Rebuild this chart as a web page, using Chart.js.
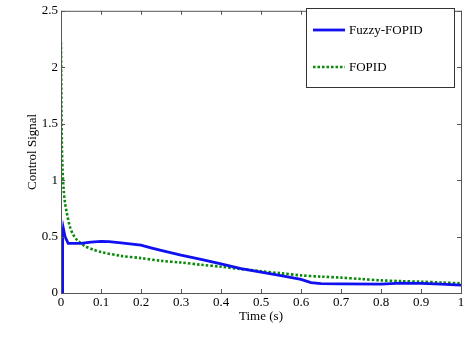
<!DOCTYPE html>
<html><head><meta charset="utf-8">
<script src="https://cdn.jsdelivr.net/npm/chart.js@4/dist/chart.umd.min.js"></script>
<style>html,body{margin:0;padding:0;background:#fff}#wrap{width:474px;height:338px}</style>
</head><body><div id="wrap"><canvas id="c" width="474" height="338"></canvas></div>
<script>
const seriesNames = ['Fuzzy-FOPID', 'FOPID'];
const xTitle = 'Time (s)';
const yTitle = 'Control Signal';
const tFuzzy = [0, 0.003, 0.004, 0.006, 0.01, 0.018, 0.03, 0.05, 0.075, 0.1, 0.12, 0.15, 0.2, 0.225, 0.25, 0.3, 0.35, 0.4, 0.45, 0.5, 0.55, 0.6, 0.625, 0.65, 0.7, 0.8, 0.85, 0.9, 0.95, 1.0];
const fuzzyFopid = [0, 0, 0.5, 0.57, 0.5, 0.44, 0.44, 0.44, 0.45, 0.458, 0.455, 0.444, 0.424, 0.4, 0.378, 0.335, 0.297, 0.257, 0.215, 0.184, 0.154, 0.121, 0.092, 0.083, 0.08, 0.078, 0.087, 0.085, 0.078, 0.069];
const tFopid = [0, 0.001, 0.002, 0.004, 0.007, 0.01, 0.014, 0.022, 0.03, 0.04, 0.06, 0.08, 0.1, 0.15, 0.2, 0.25, 0.3, 0.35, 0.4, 0.45, 0.5, 0.55, 0.6, 0.65, 0.7, 0.75, 0.8, 0.85, 0.9, 0.95, 1.0];
const fopid = [2.22, 1.7, 1.35, 1.08, 0.9, 0.8, 0.72, 0.59, 0.52, 0.47, 0.415, 0.385, 0.363, 0.329, 0.309, 0.285, 0.27, 0.25, 0.233, 0.212, 0.193, 0.175, 0.156, 0.145, 0.136, 0.124, 0.112, 0.105, 0.1, 0.093, 0.086];
const xTicks = [0, 0.1, 0.2, 0.3, 0.4, 0.5, 0.6, 0.7, 0.8, 0.9, 1];
const yTicks = [0, 0.5, 1, 1.5, 2, 2.5];

const FONT = "'Liberation Serif','Times New Roman',serif";

const boxPlugin = {
  id: 'box',
  afterDatasetsDraw(chart) {
    const {ctx, chartArea: a, scales} = chart;
    ctx.save();
    ctx.strokeStyle = '#555';
    ctx.lineWidth = 1;
    ctx.strokeRect(a.left + 0.5, a.top + 0.5, a.right - a.left, a.bottom - a.top);
    ctx.beginPath();
    xTicks.forEach(v => {
      const px = Math.round(scales.x.getPixelForValue(v)) + 0.5;
      ctx.moveTo(px, a.bottom); ctx.lineTo(px, a.bottom - 4);
      ctx.moveTo(px, a.top); ctx.lineTo(px, a.top + 4);
    });
    yTicks.forEach(v => {
      const py = Math.round(scales.y.getPixelForValue(v)) + 0.5;
      ctx.moveTo(a.left, py); ctx.lineTo(a.left + 4, py);
      ctx.moveTo(a.right, py); ctx.lineTo(a.right - 4, py);
    });
    ctx.stroke();
    // axis titles
    ctx.fillStyle = '#000';
    ctx.font = '13px ' + FONT;
    ctx.textAlign = 'center';
    ctx.textBaseline = 'middle';
    ctx.fillText(xTitle, (a.left + a.right) / 2, 317);
    ctx.save();
    ctx.translate(33, (a.top + a.bottom) / 2);
    ctx.rotate(-Math.PI / 2);
    ctx.fillText(yTitle, 0, 0);
    ctx.restore();
    // legend
    const lx = 306, ly = 8, lw = 148, lh = 79;
    ctx.fillStyle = '#fff';
    ctx.fillRect(lx, ly, lw, lh);
    ctx.strokeStyle = '#333';
    ctx.strokeRect(lx + 0.5, ly + 0.5, lw, lh);
    const rows = [30, 67];
    ctx.textAlign = 'left';
    chart.data.datasets.forEach((ds, i) => {
      ctx.beginPath();
      ctx.strokeStyle = ds.borderColor;
      ctx.lineWidth = ds.borderWidth;
      ctx.setLineDash(ds.borderDash || []);
      ctx.moveTo(313, rows[i]); ctx.lineTo(345, rows[i]);
      ctx.stroke();
      ctx.setLineDash([]);
      ctx.fillStyle = '#000';
      ctx.fillText(ds.label, 349, rows[i] + 1);
    });
    ctx.restore();
  }
};

new Chart(document.getElementById('c'), {
  type: 'line',
  data: {
    datasets: [
      { label: seriesNames[0], data: tFuzzy.map((t, i) => ({x: t, y: fuzzyFopid[i]})),
        borderColor: '#1010f0', borderWidth: 2.8, pointRadius: 0, tension: 0, fill: false },
      { label: seriesNames[1], data: tFopid.map((t, i) => ({x: t, y: fopid[i]})),
        borderColor: '#0a8a0a', borderWidth: 2.6, borderDash: [2.5, 2], pointRadius: 0, tension: 0.3, fill: false }
    ]
  },
  options: {
    responsive: false, animation: false, devicePixelRatio: 1,
    layout: { padding: { top: 4, right: 13, left: 0, bottom: 0 } },
    plugins: { legend: { display: false }, tooltip: { enabled: false } },
    scales: {
      x: {
        type: 'linear', min: 0, max: 1,
        afterBuildTicks(s) { s.ticks = xTicks.map(v => ({value: v})); },
        afterFit(s) { s.height = 45; },
        grid: { display: false, drawTicks: false },
        border: { display: false },
        ticks: { color: '#000', font: { family: FONT, size: 13 }, padding: 2, maxRotation: 0,
          callback: v => String(v) },
        title: { display: false }
      },
      y: {
        type: 'linear', min: 0, max: 2.5,
        afterBuildTicks(s) { s.ticks = yTicks.map(v => ({value: v})); },
        afterFit(s) { s.width = 61; },
        grid: { display: false, drawTicks: false },
        border: { display: false },
        ticks: { color: '#000', font: { family: FONT, size: 13 }, padding: 3,
          callback: v => String(v) },
        title: { display: false }
      }
    }
  },
  plugins: [boxPlugin]
});
</script>
</body></html>
